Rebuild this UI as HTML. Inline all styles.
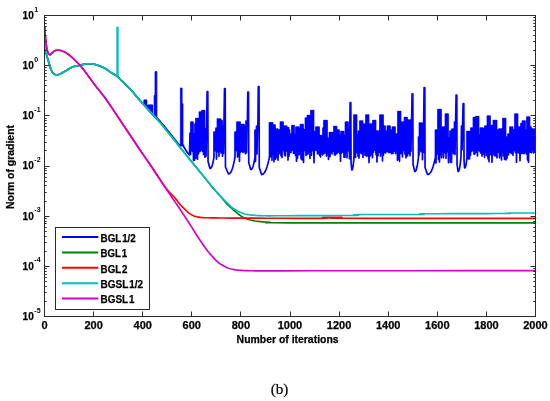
<!DOCTYPE html>
<html><head><meta charset="utf-8"><title>Norm of gradient</title>
<style>html,body{margin:0;padding:0;background:#fff;width:550px;height:401px;overflow:hidden}svg{display:block}</style>
</head><body>
<svg width="550" height="401" viewBox="0 0 550 401">
<rect width="550" height="401" fill="#fff"/>
<defs><clipPath id="ax"><rect x="44.5" y="15.5" width="491" height="301"/></clipPath></defs>
<g clip-path="url(#ax)" fill="none" stroke-linejoin="round" stroke-linecap="butt">
<path d="M44.50 26.00L44.58 27.65L44.69 29.95L44.83 32.66L44.97 35.56L45.13 38.42L45.30 41.00L45.47 43.39L45.63 45.80L45.81 48.17L46.01 50.43L46.24 52.53L46.50 54.40L46.81 55.99L47.16 57.34L47.53 58.52L47.92 59.62L48.32 60.72L48.70 61.90L49.08 63.19L49.46 64.54L49.85 65.89L50.24 67.18L50.62 68.37L51.00 69.40L51.37 70.26L51.74 71.00L52.10 71.62L52.46 72.17L52.83 72.65L53.20 73.10L53.57 73.49L53.93 73.82L54.30 74.08L54.68 74.29L55.08 74.46L55.50 74.60L55.92 74.72L56.34 74.82L56.77 74.88L57.25 74.88L57.82 74.79L58.50 74.60L59.31 74.29L60.22 73.87L61.22 73.37L62.28 72.81L63.38 72.22L64.50 71.60L65.67 70.92L66.91 70.14L68.19 69.32L69.48 68.52L70.76 67.79L72.00 67.20L73.22 66.75L74.44 66.41L75.66 66.15L76.83 65.93L77.95 65.72L79.00 65.50L79.96 65.26L80.85 65.04L81.69 64.83L82.48 64.63L83.25 64.45L84.00 64.30L84.72 64.17L85.41 64.06L86.06 63.97L86.70 63.90L87.34 63.84L88.00 63.80L88.67 63.77L89.33 63.76L90.00 63.76L90.67 63.79L91.33 63.83L92.00 63.90L92.66 63.99L93.30 64.11L93.94 64.25L94.59 64.41L95.28 64.59L96.00 64.80L96.78 65.03L97.59 65.28L98.44 65.55L99.30 65.84L100.16 66.16L101.00 66.50L101.83 66.86L102.67 67.24L103.50 67.64L104.33 68.06L105.17 68.52L106.00 69.00L106.83 69.53L107.67 70.11L108.50 70.72L109.33 71.33L110.17 71.93L111.00 72.50L111.83 73.01L112.67 73.48L113.50 73.94L114.33 74.41L115.17 74.92L116.00 75.50L116.83 76.16L117.67 76.87L118.50 77.62L119.33 78.41L120.17 79.20L121.00 80.00L121.83 80.80L122.67 81.63L123.50 82.47L124.33 83.31L125.17 84.16L126.00 85.00L126.79 85.77L127.52 86.46L128.25 87.16L129.04 87.93L129.94 88.85L131.00 90.00L132.26 91.43L133.67 93.07L135.19 94.88L136.78 96.76L138.40 98.66L140.00 100.50L141.61 102.30L144.30 105.27L144.30 100.30L146.40 100.30L146.40 107.56L148.10 109.42L148.10 105.30L152.20 105.30L152.20 113.89L153.80 115.62L157.10 118.22L157.50 118.36L158.50 119.48L159.50 120.63L160.50 121.79L161.50 122.98L162.50 124.19L163.50 125.41L164.50 126.65L165.50 127.89L166.50 129.14L167.50 130.39L168.50 131.64L169.50 132.88L170.50 134.12L171.50 135.34L172.50 136.57L173.50 137.80L174.50 139.04L175.50 140.28L176.50 141.53L177.50 142.78L178.50 144.04L179.50 145.30L180.60 145.00L182.90 145.00L184.50 148.00L186.00 150.50L188.00 153.50L189.50 155.00L190.00 133.00L190.50 154.60L191.00 133.00L191.00 122.00L191.50 150.29L192.00 122.00L192.50 151.46L193.00 122.00L193.00 134.00L193.50 160.54L194.00 134.00L194.50 160.17L195.00 134.00L195.00 124.00L195.50 158.45L196.00 124.00L196.00 118.50L196.50 157.31L197.00 118.50L197.50 159.12L198.00 118.50L198.00 128.50L198.50 153.79L199.00 128.50L199.50 128.50L199.50 112.00L200.00 151.59L200.50 112.00L201.00 150.19L201.50 112.00L202.00 112.00L202.00 110.50L202.50 151.16L203.00 110.50L203.50 154.47L204.00 110.50L204.50 110.50L204.50 129.00L205.00 157.26L205.50 129.00L206.00 156.33L206.50 129.00L206.60 129.00L207.10 91.50L207.80 91.50L208.05 161.50L210.00 168.50L210.40 168.43L210.80 168.17L211.20 167.69L211.60 166.97L212.00 166.00L212.40 164.76L212.80 163.25L213.20 161.46L213.60 159.38L214.00 157.00L214.00 132.00L214.50 151.49L215.00 132.00L215.50 150.25L216.00 132.00L216.00 128.00L216.50 159.03L217.00 128.00L217.50 128.00L217.50 119.00L218.00 151.71L218.50 119.00L219.00 156.34L219.50 119.00L220.00 151.20L220.50 119.00L220.50 120.50L221.00 152.80L221.50 120.50L222.00 120.50L222.00 126.00L222.50 156.30L223.00 126.00L223.50 153.50L223.90 126.00L224.50 88.50L225.20 88.50L225.45 167.00L228.50 174.00L229.15 173.89L229.80 173.51L230.45 172.80L231.10 171.74L231.75 170.30L232.40 168.47L233.05 166.24L233.70 163.59L234.35 160.52L235.00 157.00L235.00 132.00L235.50 151.15L236.00 132.00L236.50 150.47L237.00 132.00L237.00 122.00L237.50 157.03L238.00 122.00L238.50 155.96L239.00 122.00L239.50 161.34L240.00 122.00L240.00 127.50L240.50 152.29L241.00 127.50L241.50 127.50L241.50 124.50L242.00 151.25L242.50 124.50L243.00 152.38L243.50 124.50L244.00 124.50L244.00 127.00L244.50 151.82L245.00 127.00L245.50 153.78L246.00 127.00L246.00 121.00L246.50 152.66L247.00 121.00L247.40 121.00L247.80 92.00L248.50 92.00L248.75 162.50L250.70 169.50L251.13 169.42L251.56 169.14L251.99 168.62L252.42 167.83L252.85 166.78L253.28 165.44L253.71 163.80L254.14 161.85L254.57 159.59L255.00 157.00L255.00 130.00L255.50 161.51L256.00 130.00L256.50 130.00L256.50 126.00L257.00 153.97L257.50 126.00L257.90 126.00L258.30 86.50L259.00 86.50L259.25 167.60L261.50 174.60L262.30 174.49L263.10 174.09L263.90 173.35L264.70 172.26L265.50 170.77L266.30 168.88L267.10 166.57L267.90 163.83L268.70 160.64L269.50 157.00L269.50 122.80L270.00 151.14L270.50 122.80L271.00 156.67L271.50 122.80L272.00 160.31L272.50 122.80L272.50 125.00L273.00 154.47L273.50 125.00L274.00 161.84L274.50 125.00L275.00 125.00L275.00 129.00L275.50 159.24L276.00 129.00L276.50 157.49L277.00 129.00L277.50 129.00L277.50 135.00L278.00 160.25L278.50 135.00L278.50 130.00L279.00 153.53L279.50 130.00L280.00 153.46L280.50 130.00L280.50 122.00L281.00 155.66L281.50 122.00L282.00 157.54L282.50 122.00L283.00 122.00L283.00 137.00L283.50 150.60L284.00 137.00L284.00 126.20L284.50 154.93L285.00 126.20L285.50 155.94L286.00 126.20L286.50 126.20L286.50 127.50L287.00 151.05L287.50 127.50L288.00 160.09L288.50 127.50L288.50 130.00L289.00 156.27L289.50 130.00L289.50 134.00L290.00 152.76L290.50 134.00L291.00 152.47L291.50 134.00L292.00 134.00L292.00 125.50L292.50 150.22L293.00 125.50L293.50 153.12L294.00 125.50L294.00 134.50L294.50 153.19L295.00 134.50L295.50 155.60L296.00 134.50L296.00 127.00L296.50 161.17L297.00 127.00L297.50 158.34L298.00 127.00L298.50 127.00L298.50 128.50L299.00 154.65L299.50 128.50L300.00 154.21L300.50 128.50L300.50 124.50L301.00 158.76L301.50 124.50L302.00 159.82L302.50 124.50L303.00 124.50L303.00 129.50L303.50 162.37L304.00 129.50L304.50 150.59L305.00 129.50L305.50 129.50L305.50 118.00L306.00 155.39L306.50 118.00L307.00 154.49L307.50 118.00L307.50 115.50L308.00 153.97L308.50 115.50L309.00 151.94L309.50 115.50L309.50 130.00L310.00 158.51L310.50 130.00L311.00 130.00L311.00 110.50L311.50 155.06L312.00 110.50L312.50 150.65L313.00 110.50L313.50 110.50L313.50 131.50L314.00 162.75L314.50 131.50L315.00 150.59L315.50 131.50L316.00 131.50L316.00 127.00L316.50 150.11L317.00 127.00L317.50 153.91L318.00 127.00L318.50 152.78L319.00 127.00L319.00 135.50L319.50 155.47L320.00 135.50L320.50 157.09L321.00 135.50L321.50 153.12L322.00 135.50L322.50 154.89L323.00 135.50L323.00 128.00L323.50 153.94L324.00 128.00L324.00 120.50L324.50 153.22L325.00 120.50L325.50 152.96L326.00 120.50L326.50 156.07L327.00 120.50L327.00 138.00L327.50 154.12L328.00 138.00L328.50 159.40L329.00 138.00L329.50 138.00L329.50 132.50L330.00 156.77L330.50 132.50L331.00 151.79L331.50 132.50L332.00 153.95L332.50 132.50L333.00 151.46L333.50 132.50L334.00 132.50L334.00 126.50L334.50 154.91L335.00 126.50L335.50 154.82L336.00 126.50L336.50 126.50L336.50 130.00L337.00 153.60L337.50 130.00L338.00 151.92L338.50 130.00L339.00 130.00L339.00 135.50L339.50 153.20L340.00 135.50L340.50 161.30L341.00 135.50L341.00 131.50L341.50 153.13L342.00 131.50L342.50 151.91L343.00 131.50L343.50 131.50L343.50 135.50L344.00 157.16L344.50 135.50L345.00 157.20L345.50 135.50L345.50 122.00L346.00 151.58L346.50 122.00L347.00 157.79L347.50 122.00L348.00 122.00L348.00 130.00L348.50 150.68L349.00 130.00L349.50 158.76L349.80 130.00L350.10 102.50L350.80 102.50L351.05 163.00L351.80 170.00L352.02 169.92L352.24 169.62L352.46 169.08L352.68 168.27L352.90 167.17L353.12 165.77L353.34 164.07L353.56 162.04L353.78 159.69L354.00 157.00L354.00 115.00L354.50 153.23L355.00 115.00L355.50 157.31L356.00 115.00L356.50 115.00L356.50 135.00L357.00 152.63L357.50 135.00L358.00 156.19L358.50 135.00L358.50 131.00L359.00 158.07L359.50 131.00L360.00 131.00L360.00 121.00L360.50 152.60L361.00 121.00L361.50 153.73L362.00 121.00L362.50 121.00L362.50 124.00L363.00 157.49L363.50 124.00L364.00 150.84L364.50 124.00L365.00 155.17L365.50 124.00L366.00 124.00L366.00 115.00L366.50 156.35L367.00 115.00L367.50 155.68L368.00 115.00L368.50 115.00L368.50 130.00L369.00 162.55L369.50 130.00L370.00 130.00L370.00 124.00L370.50 155.83L371.00 124.00L371.50 153.62L372.00 124.00L372.50 157.67L373.00 124.00L373.00 120.50L373.50 152.13L374.00 120.50L374.50 150.07L375.00 120.50L375.50 120.50L375.50 131.00L376.00 154.73L376.50 131.00L377.00 162.00L377.50 131.00L378.00 155.89L378.50 131.00L379.00 152.23L379.50 131.00L380.00 131.00L380.00 115.00L380.50 156.07L381.00 115.00L381.50 153.14L382.00 115.00L382.50 160.80L383.00 115.00L383.00 126.00L383.50 155.11L384.00 126.00L384.50 152.03L385.00 126.00L385.00 131.00L385.50 153.04L386.00 131.00L386.50 151.77L387.00 131.00L387.50 131.00L387.50 126.00L388.00 152.02L388.50 126.00L389.00 152.77L389.50 126.00L390.00 126.00L390.00 130.00L390.50 152.13L391.00 130.00L391.50 153.77L392.00 130.00L392.50 130.00L392.50 127.00L393.00 153.51L393.50 127.00L394.00 151.04L394.50 127.00L395.00 127.00L395.00 134.00L395.50 153.77L396.00 134.00L396.50 150.55L397.00 134.00L397.50 160.21L398.00 134.00L398.00 111.50L398.50 159.20L399.00 111.50L399.50 161.35L400.00 111.50L400.50 111.50L400.50 133.00L401.00 153.59L401.50 133.00L402.00 133.00L402.00 122.00L402.50 156.86L403.00 122.00L403.50 150.57L404.00 122.00L404.50 122.00L404.50 117.50L405.00 153.87L405.50 117.50L406.00 157.81L406.50 117.50L407.00 117.50L407.00 124.00L407.50 155.95L408.00 124.00L408.50 124.00L408.50 120.00L409.00 153.33L409.50 120.00L410.00 155.73L410.50 120.00L411.00 151.36L411.50 120.00L411.60 120.00L412.10 93.75L412.80 93.75L413.05 164.50L414.80 171.50L415.17 171.41L415.54 171.08L415.91 170.47L416.28 169.57L416.65 168.34L417.02 166.79L417.39 164.88L417.76 162.63L418.13 160.00L418.50 157.00L418.50 137.00L419.00 155.27L419.50 137.00L419.50 123.00L420.00 150.08L420.50 123.00L421.00 151.76L421.50 123.00L422.00 123.00L422.00 127.00L422.50 159.66L423.00 127.00L423.50 152.05L423.60 127.00L424.10 87.50L424.80 87.50L425.05 167.50L427.50 174.50L428.30 174.39L429.10 173.99L429.90 173.26L430.70 172.17L431.50 170.69L432.30 168.81L433.10 166.52L433.90 163.79L434.70 160.62L435.50 157.00L435.50 130.00L436.00 162.93L436.50 130.00L437.00 153.89L437.50 130.00L438.00 130.00L438.00 109.50L438.50 159.33L439.00 109.50L439.50 161.89L440.00 109.50L440.50 154.52L441.00 109.50L441.00 138.00L441.50 157.65L442.00 138.00L442.00 127.00L442.50 151.03L443.00 127.00L443.50 157.68L444.00 127.00L444.50 127.00L444.50 135.00L445.00 152.80L445.50 135.00L445.50 114.00L446.00 158.29L446.50 114.00L447.00 151.70L447.50 114.00L448.00 114.00L448.00 138.00L448.50 162.69L449.00 138.00L449.50 153.21L450.00 138.00L450.00 131.00L450.50 162.28L451.00 131.00L451.50 162.31L452.00 131.00L452.00 129.00L452.50 151.36L453.00 129.00L453.50 153.71L454.00 129.00L454.50 129.00L454.50 122.00L455.00 154.52L455.50 122.00L455.60 122.00L456.10 95.00L456.80 95.00L457.05 164.50L458.00 171.50L458.30 171.41L458.60 171.08L458.90 170.47L459.20 169.57L459.50 168.34L459.80 166.79L460.10 164.88L460.40 162.63L460.70 160.00L461.00 157.00L461.50 126.00L462.00 150.00L463.10 103.50L463.80 103.50L464.05 161.00L464.60 168.00L464.84 167.93L465.08 167.68L465.32 167.22L465.56 166.53L465.80 165.61L466.04 164.42L466.28 162.98L466.52 161.27L466.76 159.28L467.00 157.00L467.00 131.50L467.50 150.95L468.00 131.50L468.50 158.81L469.00 131.50L469.50 159.01L470.00 131.50L470.50 155.22L471.00 131.50L471.00 128.00L471.50 151.16L472.00 128.00L472.50 150.71L473.00 128.00L473.50 128.00L473.50 117.50L474.00 154.07L474.50 117.50L475.00 154.06L475.50 117.50L476.00 117.50L476.00 116.50L476.50 152.20L477.00 116.50L477.50 155.90L478.00 116.50L478.50 116.50L478.50 135.00L479.00 150.43L479.50 135.00L480.00 151.73L480.50 135.00L480.50 128.00L481.00 153.34L481.50 128.00L482.00 156.03L482.50 128.00L483.00 128.00L483.00 129.00L483.50 153.93L484.00 129.00L484.50 157.33L485.00 129.00L485.00 126.00L485.50 152.54L486.00 126.00L486.50 155.39L487.00 126.00L487.50 126.00L487.50 116.00L488.00 158.65L488.50 116.00L489.00 161.70L489.50 116.00L490.00 116.00L490.00 129.50L490.50 154.65L491.00 129.50L491.50 129.50L491.50 125.50L492.00 162.21L492.50 125.50L493.00 152.68L493.50 125.50L493.50 120.50L494.00 154.97L494.50 120.50L495.00 155.84L495.50 120.50L496.00 155.78L496.50 120.50L496.50 130.00L497.00 157.85L497.50 130.00L498.00 152.19L498.50 130.00L499.00 130.00L499.00 129.00L499.50 157.86L500.00 129.00L500.50 155.43L501.00 129.00L501.50 159.91L502.00 129.00L502.50 152.01L503.00 129.00L503.00 118.50L503.50 156.02L504.00 118.50L504.50 159.32L505.00 118.50L505.50 118.50L505.50 137.00L506.00 160.00L506.50 137.00L507.00 158.11L507.50 137.00L508.00 137.00L508.00 134.00L508.50 154.93L509.00 134.00L509.50 152.12L510.00 134.00L510.00 127.00L510.50 152.63L511.00 127.00L511.50 153.52L512.00 127.00L512.50 127.00L512.50 130.00L513.00 155.30L513.50 130.00L514.00 150.60L514.50 130.00L515.00 130.00L515.00 114.00L515.50 152.57L516.00 114.00L516.50 162.18L517.00 114.00L517.50 114.00L517.50 127.00L518.00 152.51L518.50 127.00L519.00 153.25L519.50 127.00L519.50 132.00L520.00 160.62L520.50 132.00L521.00 132.00L521.00 123.50L521.50 153.34L522.00 123.50L522.50 123.50L522.50 121.00L523.00 153.31L523.50 121.00L524.00 153.57L524.50 121.00L525.00 121.00L525.00 130.00L525.50 152.77L526.00 130.00L526.50 154.12L527.00 130.00L527.00 117.00L527.50 159.80L528.00 117.00L528.50 162.18L529.00 117.00L529.50 117.00L529.50 127.00L530.00 152.51L530.50 127.00L531.00 127.00L531.00 129.00L531.50 152.72L532.00 129.00L532.50 150.01L533.00 129.00L533.50 152.99L534.00 129.00L534.50 152.14L535.00 129.00L535.50 150.26L536.00 129.00" stroke="#0000ff" stroke-width="1.7"/>
<path d="M144.3 106.27V100.3H146.4V108.56ZM148.1 110.42V105.3H152.2V114.89ZM154.1 116.95V95.2H155V71.6H156.9V120.00ZM180.4 146V88H182.1V103.6H183V146Z" fill="#0000ff" stroke="#0000ff" stroke-width="0.8"/>
<path d="M44.50 26.00L44.58 27.65L44.69 29.95L44.83 32.66L44.97 35.56L45.13 38.42L45.30 41.00L45.47 43.39L45.63 45.80L45.81 48.17L46.01 50.43L46.24 52.53L46.50 54.40L46.81 55.99L47.16 57.34L47.53 58.52L47.92 59.62L48.32 60.72L48.70 61.90L49.08 63.19L49.46 64.54L49.85 65.89L50.24 67.18L50.62 68.37L51.00 69.40L51.37 70.26L51.74 71.00L52.10 71.62L52.46 72.17L52.83 72.65L53.20 73.10L53.57 73.49L53.93 73.82L54.30 74.08L54.68 74.29L55.08 74.46L55.50 74.60L55.92 74.72L56.34 74.82L56.77 74.88L57.25 74.88L57.82 74.79L58.50 74.60L59.31 74.29L60.22 73.87L61.22 73.37L62.28 72.81L63.38 72.22L64.50 71.60L65.67 70.92L66.91 70.14L68.19 69.32L69.48 68.52L70.76 67.79L72.00 67.20L73.22 66.75L74.44 66.41L75.66 66.15L76.83 65.93L77.95 65.72L79.00 65.50L79.96 65.26L80.85 65.04L81.69 64.83L82.48 64.63L83.25 64.45L84.00 64.30L84.72 64.17L85.41 64.06L86.06 63.97L86.70 63.90L87.34 63.84L88.00 63.80L88.67 63.77L89.33 63.76L90.00 63.76L90.67 63.79L91.33 63.83L92.00 63.90L92.66 63.99L93.30 64.11L93.94 64.25L94.59 64.41L95.28 64.59L96.00 64.80L96.78 65.03L97.59 65.28L98.44 65.55L99.30 65.84L100.16 66.16L101.00 66.50L101.83 66.86L102.67 67.24L103.50 67.64L104.33 68.06L105.17 68.52L106.00 69.00L106.83 69.53L107.67 70.11L108.50 70.72L109.33 71.33L110.17 71.93L111.00 72.50L111.83 73.01L112.67 73.48L113.50 73.94L114.33 74.41L115.17 74.92L116.00 75.50L116.83 76.16L117.67 76.87L118.50 77.62L119.33 78.41L120.17 79.20L121.00 80.00L121.83 80.80L122.67 81.63L123.50 82.47L124.33 83.31L125.17 84.16L126.00 85.00L126.79 85.77L127.52 86.46L128.25 87.16L129.04 87.93L129.94 88.85L131.00 90.00L132.26 91.43L133.67 93.07L135.19 94.88L136.78 96.76L138.40 98.66L140.00 100.50L141.61 102.30L143.26 104.13L144.94 105.97L146.63 107.81L148.32 109.66L150.00 111.50L151.67 113.32L153.33 115.12L155.00 116.92L156.67 118.74L158.33 120.59L160.00 122.50L161.71 124.53L163.48 126.69L165.25 128.88L166.96 131.01L168.56 133.02L170.00 134.80L171.22 136.30L172.26 137.58L173.19 138.72L174.07 139.81L174.99 140.94L176.00 142.20L177.09 143.56L178.20 144.96L179.33 146.39L180.50 147.87L181.72 149.40L183.00 151.00L184.35 152.69L185.77 154.46L187.24 156.28L188.73 158.13L190.22 159.98L191.70 161.80L193.19 163.62L194.70 165.46L196.22 167.31L197.72 169.11L199.15 170.86L200.50 172.50L201.75 174.04L202.94 175.51L204.07 176.91L205.15 178.25L206.19 179.54L207.20 180.80L208.14 181.98L208.99 183.06L209.80 184.10L210.62 185.14L211.51 186.22L212.50 187.40L213.64 188.70L214.89 190.08L216.21 191.51L217.53 192.94L218.81 194.35L220.00 195.70L221.11 197.02L222.19 198.34L223.22 199.63L224.20 200.86L225.13 202.00L226.00 203.00L226.77 203.83L227.44 204.50L228.06 205.07L228.67 205.61L229.30 206.17L230.00 206.80L230.76 207.51L231.56 208.24L232.38 208.99L233.22 209.76L234.10 210.53L235.00 211.30L235.93 212.09L236.89 212.90L237.88 213.73L238.89 214.53L239.93 215.30L241.00 216.00L242.09 216.65L243.19 217.26L244.31 217.83L245.48 218.36L246.71 218.85L248.00 219.30L249.34 219.71L250.70 220.07L252.12 220.39L253.63 220.68L255.25 220.95L257.00 221.20L258.85 221.44L260.78 221.65L262.81 221.84L265.00 222.01L267.38 222.16L270.00 222.30L270.32 222.42L267.80 222.53L265.47 222.62L266.37 222.69L273.54 222.75L290.00 222.80L320.71 222.83L364.22 222.84L414.00 222.83L463.50 222.82L506.18 222.81L535.50 222.80" stroke="#008000" stroke-width="1.65"/>
<path d="M44.50 26.00L44.63 27.50L44.80 29.61L45.01 32.09L45.23 34.72L45.47 37.27L45.70 39.50L45.92 41.49L46.15 43.44L46.38 45.30L46.63 47.04L46.90 48.62L47.20 50.00L47.55 51.18L47.94 52.20L48.35 53.06L48.76 53.76L49.15 54.30L49.50 54.70L49.78 54.91L50.00 54.91L50.21 54.76L50.42 54.51L50.67 54.21L51.00 53.90L51.41 53.54L51.89 53.08L52.41 52.56L52.94 52.04L53.48 51.57L54.00 51.20L54.48 50.92L54.94 50.68L55.41 50.49L55.89 50.35L56.41 50.25L57.00 50.20L57.65 50.18L58.34 50.20L59.07 50.26L59.84 50.37L60.65 50.55L61.50 50.80L62.42 51.14L63.41 51.57L64.44 52.06L65.48 52.59L66.48 53.14L67.40 53.70L68.20 54.22L68.90 54.71L69.57 55.23L70.26 55.82L71.05 56.53L72.00 57.40L73.17 58.51L74.53 59.82L75.97 61.25L77.43 62.71L78.80 64.13L80.00 65.40L81.02 66.53L81.93 67.60L82.75 68.61L83.52 69.58L84.26 70.54L85.00 71.50L85.69 72.41L86.30 73.23L86.88 74.04L87.48 74.89L88.17 75.86L89.00 77.00L89.98 78.35L91.07 79.85L92.25 81.47L93.48 83.15L94.74 84.84L96.00 86.50L97.30 88.16L98.67 89.85L100.06 91.56L101.44 93.26L102.77 94.91L104.00 96.50L105.07 97.93L106.00 99.20L106.88 100.44L107.78 101.74L108.79 103.22L110.00 105.00L111.44 107.12L113.04 109.52L114.75 112.09L116.52 114.76L118.29 117.42L120.00 120.00L121.67 122.50L123.33 125.00L125.00 127.50L126.67 130.00L128.33 132.50L130.00 135.00L131.67 137.51L133.33 140.02L135.00 142.53L136.67 145.04L138.33 147.53L140.00 150.00L141.67 152.44L143.33 154.85L145.00 157.25L146.67 159.65L148.33 162.06L150.00 164.50L151.72 167.06L153.52 169.75L155.31 172.45L157.04 175.05L158.62 177.44L160.00 179.50L161.12 181.18L162.04 182.55L162.81 183.71L163.52 184.75L164.22 185.75L165.00 186.80L165.83 187.88L166.67 188.93L167.50 189.93L168.33 190.91L169.17 191.86L170.00 192.80L170.83 193.70L171.67 194.55L172.50 195.38L173.33 196.21L174.17 197.08L175.00 198.00L175.83 199.00L176.67 200.06L177.50 201.15L178.33 202.24L179.17 203.30L180.00 204.30L180.84 205.25L181.69 206.16L182.54 207.05L183.39 207.90L184.21 208.72L185.00 209.50L185.75 210.24L186.47 210.95L187.17 211.62L187.86 212.25L188.57 212.85L189.30 213.40L190.06 213.91L190.84 214.39L191.62 214.82L192.42 215.21L193.21 215.57L194.00 215.90L194.73 216.18L195.40 216.41L196.06 216.61L196.79 216.79L197.65 216.94L198.70 217.10L199.72 217.25L200.62 217.39L201.64 217.51L203.05 217.61L205.08 217.71L208.00 217.80L211.44 217.87L215.13 217.93L219.46 217.98L224.79 218.02L231.51 218.06L240.00 218.10L251.71 218.15L266.63 218.21L282.94 218.28L298.81 218.32L312.44 218.33L322.00 218.30L326.65 218.20L327.67 218.05L326.44 217.86L324.33 217.67L322.73 217.51L323.00 217.40L325.33 217.34L328.67 217.30L332.50 217.29L336.33 217.30L339.67 217.34L342.00 217.40L340.99 217.51L336.57 217.67L331.66 217.85L329.15 218.03L331.96 218.19L343.00 218.30L366.23 218.35L400.11 218.37L439.31 218.36L478.50 218.33L512.34 218.31L535.50 218.30" stroke="#ff0000" stroke-width="1.65"/>
<path d="M44.50 26.00L44.58 27.65L44.69 29.95L44.83 32.66L44.97 35.56L45.13 38.42L45.30 41.00L45.47 43.39L45.63 45.80L45.81 48.17L46.01 50.43L46.24 52.53L46.50 54.40L46.81 55.99L47.16 57.34L47.53 58.52L47.92 59.62L48.32 60.72L48.70 61.90L49.08 63.19L49.46 64.54L49.85 65.89L50.24 67.18L50.62 68.37L51.00 69.40L51.37 70.26L51.74 71.00L52.10 71.62L52.46 72.17L52.83 72.65L53.20 73.10L53.57 73.49L53.93 73.82L54.30 74.08L54.68 74.29L55.08 74.46L55.50 74.60L55.92 74.72L56.34 74.82L56.77 74.88L57.25 74.88L57.82 74.79L58.50 74.60L59.31 74.29L60.22 73.87L61.22 73.37L62.28 72.81L63.38 72.22L64.50 71.60L65.67 70.92L66.91 70.14L68.19 69.32L69.48 68.52L70.76 67.79L72.00 67.20L73.22 66.75L74.44 66.41L75.66 66.15L76.83 65.93L77.95 65.72L79.00 65.50L79.96 65.26L80.85 65.04L81.69 64.83L82.48 64.63L83.25 64.45L84.00 64.30L84.72 64.17L85.41 64.06L86.06 63.97L86.70 63.90L87.34 63.84L88.00 63.80L88.67 63.77L89.33 63.76L90.00 63.76L90.67 63.79L91.33 63.83L92.00 63.90L92.66 63.99L93.30 64.11L93.94 64.25L94.59 64.41L95.28 64.59L96.00 64.80L96.78 65.03L97.59 65.28L98.44 65.55L99.30 65.84L100.16 66.16L101.00 66.50L101.83 66.86L102.67 67.24L103.50 67.64L104.33 68.06L105.17 68.52L106.00 69.00L106.83 69.53L107.67 70.11L108.50 70.72L109.33 71.33L110.17 71.93L111.00 72.50L111.83 73.01L112.67 73.48L113.50 73.94L114.33 74.41L115.17 74.92L116.00 75.50L116.83 76.16L117.67 76.87L118.50 77.62L119.33 78.41L120.17 79.20L121.00 80.00L121.83 80.80L122.67 81.63L123.50 82.47L124.33 83.31L125.17 84.16L126.00 85.00L126.79 85.77L127.52 86.46L128.25 87.16L129.04 87.93L129.94 88.85L131.00 90.00L132.26 91.43L133.67 93.07L135.19 94.88L136.78 96.76L138.40 98.66L140.00 100.50L141.61 102.30L143.26 104.13L144.94 105.97L146.63 107.81L148.32 109.66L150.00 111.50L151.67 113.32L153.33 115.12L155.00 116.92L156.67 118.74L158.33 120.59L160.00 122.50L161.71 124.53L163.48 126.69L165.25 128.88L166.96 131.01L168.56 133.02L170.00 134.80L171.22 136.30L172.26 137.58L173.19 138.72L174.07 139.81L174.99 140.94L176.00 142.20L177.09 143.56L178.20 144.96L179.33 146.39L180.50 147.87L181.72 149.40L183.00 151.00L184.35 152.69L185.77 154.46L187.24 156.28L188.73 158.13L190.22 159.98L191.70 161.80L193.19 163.62L194.70 165.46L196.22 167.31L197.72 169.11L199.15 170.86L200.50 172.50L201.75 174.04L202.94 175.51L204.07 176.91L205.15 178.25L206.19 179.54L207.20 180.80L208.14 181.98L208.99 183.06L209.80 184.10L210.62 185.14L211.51 186.22L212.50 187.40L213.62 188.69L214.84 190.07L216.12 191.49L217.43 192.93L218.73 194.34L220.00 195.70L221.26 197.02L222.53 198.34L223.79 199.64L225.04 200.90L226.25 202.09L227.40 203.20L228.46 204.21L229.44 205.14L230.39 206.01L231.33 206.83L232.32 207.62L233.40 208.40L234.59 209.19L235.87 209.96L237.20 210.71L238.53 211.41L239.81 212.05L241.00 212.60L242.08 213.05L243.08 213.41L244.04 213.71L244.99 213.96L245.96 214.18L247.00 214.40L248.06 214.61L249.11 214.78L250.19 214.93L251.33 215.06L252.59 215.18L254.00 215.30L255.44 215.41L256.85 215.52L258.38 215.61L260.15 215.69L262.31 215.76L265.00 215.80L267.89 215.82L270.80 215.82L274.09 215.80L278.15 215.77L283.33 215.74L290.00 215.70L299.31 215.67L311.20 215.63L324.22 215.59L336.91 215.54L347.82 215.48L355.50 215.40L358.73 215.29L358.43 215.15L356.34 214.99L354.24 214.84L353.87 214.70L357.00 214.60L364.77 214.54L376.02 214.50L389.00 214.49L401.98 214.47L413.23 214.45L421.00 214.40L424.20 214.32L423.98 214.21L422.03 214.10L420.02 213.99L419.62 213.88L422.50 213.80L429.44 213.74L439.24 213.70L450.66 213.68L462.43 213.65L473.29 213.63L482.00 213.60L488.68 213.57L494.35 213.54L499.12 213.51L503.09 213.48L506.35 213.44L509.00 213.40L510.45 213.34L510.52 213.27L509.88 213.19L509.20 213.11L509.19 213.05L510.50 213.00L513.60 212.98L518.02 212.97L523.09 212.97L528.15 212.99L532.51 213.00L535.50 213.00" stroke="#00bfbf" stroke-width="1.65"/>
<path d="M117.5 76.7 L117.5 26.8" stroke="#00bfbf" stroke-width="2.4"/>
<path d="M44.50 26.00L44.63 27.50L44.80 29.61L45.01 32.09L45.23 34.72L45.47 37.27L45.70 39.50L45.92 41.49L46.15 43.44L46.38 45.30L46.63 47.04L46.90 48.62L47.20 50.00L47.55 51.18L47.94 52.20L48.35 53.06L48.76 53.76L49.15 54.30L49.50 54.70L49.78 54.91L50.00 54.91L50.21 54.76L50.42 54.51L50.67 54.21L51.00 53.90L51.41 53.54L51.89 53.08L52.41 52.56L52.94 52.04L53.48 51.57L54.00 51.20L54.48 50.92L54.94 50.68L55.41 50.49L55.89 50.35L56.41 50.25L57.00 50.20L57.65 50.18L58.34 50.20L59.07 50.26L59.84 50.37L60.65 50.55L61.50 50.80L62.42 51.14L63.41 51.57L64.44 52.06L65.48 52.59L66.48 53.14L67.40 53.70L68.20 54.22L68.90 54.71L69.57 55.23L70.26 55.82L71.05 56.53L72.00 57.40L73.17 58.51L74.53 59.82L75.97 61.25L77.43 62.71L78.80 64.13L80.00 65.40L81.02 66.53L81.93 67.60L82.75 68.61L83.52 69.58L84.26 70.54L85.00 71.50L85.69 72.41L86.30 73.23L86.88 74.04L87.48 74.89L88.17 75.86L89.00 77.00L89.98 78.35L91.07 79.85L92.25 81.47L93.48 83.15L94.74 84.84L96.00 86.50L97.30 88.16L98.67 89.85L100.06 91.56L101.44 93.26L102.77 94.91L104.00 96.50L105.07 97.93L106.00 99.20L106.88 100.44L107.78 101.74L108.79 103.22L110.00 105.00L111.44 107.12L113.04 109.52L114.75 112.09L116.52 114.76L118.29 117.42L120.00 120.00L121.67 122.50L123.33 125.00L125.00 127.50L126.67 130.00L128.33 132.50L130.00 135.00L131.67 137.51L133.33 140.02L135.00 142.53L136.67 145.04L138.33 147.53L140.00 150.00L141.67 152.44L143.33 154.85L145.00 157.25L146.67 159.65L148.33 162.06L150.00 164.50L151.67 166.97L153.33 169.46L155.00 171.97L156.67 174.48L158.33 176.99L160.00 179.50L161.67 182.00L163.33 184.51L165.00 187.01L166.67 189.51L168.33 192.01L170.00 194.50L171.67 196.97L173.33 199.43L175.00 201.89L176.67 204.34L178.33 206.81L180.00 209.30L181.68 211.83L183.38 214.39L185.08 216.96L186.76 219.52L188.41 222.04L190.00 224.50L191.52 226.89L192.97 229.23L194.39 231.53L195.80 233.80L197.23 236.06L198.70 238.30L200.21 240.56L201.75 242.82L203.31 245.07L204.87 247.27L206.44 249.39L208.00 251.40L209.60 253.35L211.27 255.28L212.93 257.13L214.54 258.85L216.05 260.39L217.40 261.70L218.55 262.72L219.55 263.49L220.44 264.07L221.27 264.56L222.11 265.01L223.00 265.50L223.94 266.03L224.87 266.53L225.81 267.00L226.75 267.44L227.68 267.84L228.60 268.20L229.52 268.52L230.43 268.79L231.34 269.03L232.24 269.24L233.13 269.43L234.00 269.60L234.79 269.75L235.47 269.86L236.15 269.96L236.90 270.04L237.82 270.12L239.00 270.20L240.27 270.29L241.52 270.39L242.94 270.48L244.70 270.57L247.00 270.64L250.00 270.70L251.29 270.74L250.24 270.77L249.72 270.79L252.59 270.80L261.73 270.81L280.00 270.80L312.49 270.78L357.93 270.75L409.62 270.71L460.91 270.66L505.09 270.63L535.50 270.60" stroke="#d400c8" stroke-width="1.65"/>
</g>
<path d="M44.5 316.5V311.5M44.5 15.5V20.5M93.5 316.5V311.5M93.5 15.5V20.5M142.5 316.5V311.5M142.5 15.5V20.5M191.5 316.5V311.5M191.5 15.5V20.5M240.5 316.5V311.5M240.5 15.5V20.5M290.5 316.5V311.5M290.5 15.5V20.5M339.5 316.5V311.5M339.5 15.5V20.5M388.5 316.5V311.5M388.5 15.5V20.5M437.5 316.5V311.5M437.5 15.5V20.5M486.5 316.5V311.5M486.5 15.5V20.5M535.5 316.5V311.5M535.5 15.5V20.5M44.5 15.5H49.5M535.5 15.5H530.5M44.5 65.5H49.5M535.5 65.5H530.5M44.5 115.5H49.5M535.5 115.5H530.5M44.5 166.5H49.5M535.5 166.5H530.5M44.5 216.5H49.5M535.5 216.5H530.5M44.5 266.5H49.5M535.5 266.5H530.5M44.5 316.5H49.5M535.5 316.5H530.5M44.5 50.5H46.7M535.5 50.5H533.3M44.5 41.5H46.7M535.5 41.5H533.3M44.5 35.5H46.7M535.5 35.5H533.3M44.5 30.5H46.7M535.5 30.5H533.3M44.5 26.5H46.7M535.5 26.5H533.3M44.5 23.5H46.7M535.5 23.5H533.3M44.5 20.5H46.7M535.5 20.5H533.3M44.5 17.5H46.7M535.5 17.5H533.3M44.5 100.5H46.7M535.5 100.5H533.3M44.5 91.5H46.7M535.5 91.5H533.3M44.5 85.5H46.7M535.5 85.5H533.3M44.5 80.5H46.7M535.5 80.5H533.3M44.5 76.5H46.7M535.5 76.5H533.3M44.5 73.5H46.7M535.5 73.5H533.3M44.5 70.5H46.7M535.5 70.5H533.3M44.5 67.5H46.7M535.5 67.5H533.3M44.5 150.5H46.7M535.5 150.5H533.3M44.5 142.5H46.7M535.5 142.5H533.3M44.5 135.5H46.7M535.5 135.5H533.3M44.5 130.5H46.7M535.5 130.5H533.3M44.5 126.5H46.7M535.5 126.5H533.3M44.5 123.5H46.7M535.5 123.5H533.3M44.5 120.5H46.7M535.5 120.5H533.3M44.5 118.5H46.7M535.5 118.5H533.3M44.5 201.5H46.7M535.5 201.5H533.3M44.5 192.5H46.7M535.5 192.5H533.3M44.5 185.5H46.7M535.5 185.5H533.3M44.5 181.5H46.7M535.5 181.5H533.3M44.5 177.5H46.7M535.5 177.5H533.3M44.5 173.5H46.7M535.5 173.5H533.3M44.5 170.5H46.7M535.5 170.5H533.3M44.5 168.5H46.7M535.5 168.5H533.3M44.5 251.5H46.7M535.5 251.5H533.3M44.5 242.5H46.7M535.5 242.5H533.3M44.5 236.5H46.7M535.5 236.5H533.3M44.5 231.5H46.7M535.5 231.5H533.3M44.5 227.5H46.7M535.5 227.5H533.3M44.5 223.5H46.7M535.5 223.5H533.3M44.5 221.5H46.7M535.5 221.5H533.3M44.5 218.5H46.7M535.5 218.5H533.3M44.5 301.5H46.7M535.5 301.5H533.3M44.5 292.5H46.7M535.5 292.5H533.3M44.5 286.5H46.7M535.5 286.5H533.3M44.5 281.5H46.7M535.5 281.5H533.3M44.5 277.5H46.7M535.5 277.5H533.3M44.5 274.5H46.7M535.5 274.5H533.3M44.5 271.5H46.7M535.5 271.5H533.3M44.5 268.5H46.7M535.5 268.5H533.3" stroke="#2b2b2b" stroke-width="1" fill="none"/>
<rect x="44.5" y="15.5" width="491" height="301" fill="none" stroke="#2b2b2b" stroke-width="1"/>
<text x="44.5" y="329" font-size="11" font-family="Liberation Sans, Arial, sans-serif" font-weight="bold" stroke="#000" stroke-width="0.25" text-anchor="middle">0</text>
<text x="93.6" y="329" font-size="11" font-family="Liberation Sans, Arial, sans-serif" font-weight="bold" stroke="#000" stroke-width="0.25" text-anchor="middle">200</text>
<text x="142.7" y="329" font-size="11" font-family="Liberation Sans, Arial, sans-serif" font-weight="bold" stroke="#000" stroke-width="0.25" text-anchor="middle">400</text>
<text x="191.8" y="329" font-size="11" font-family="Liberation Sans, Arial, sans-serif" font-weight="bold" stroke="#000" stroke-width="0.25" text-anchor="middle">600</text>
<text x="240.9" y="329" font-size="11" font-family="Liberation Sans, Arial, sans-serif" font-weight="bold" stroke="#000" stroke-width="0.25" text-anchor="middle">800</text>
<text x="290.0" y="329" font-size="11" font-family="Liberation Sans, Arial, sans-serif" font-weight="bold" stroke="#000" stroke-width="0.25" text-anchor="middle">1000</text>
<text x="339.1" y="329" font-size="11" font-family="Liberation Sans, Arial, sans-serif" font-weight="bold" stroke="#000" stroke-width="0.25" text-anchor="middle">1200</text>
<text x="388.2" y="329" font-size="11" font-family="Liberation Sans, Arial, sans-serif" font-weight="bold" stroke="#000" stroke-width="0.25" text-anchor="middle">1400</text>
<text x="437.3" y="329" font-size="11" font-family="Liberation Sans, Arial, sans-serif" font-weight="bold" stroke="#000" stroke-width="0.25" text-anchor="middle">1600</text>
<text x="486.4" y="329" font-size="11" font-family="Liberation Sans, Arial, sans-serif" font-weight="bold" stroke="#000" stroke-width="0.25" text-anchor="middle">1800</text>
<text x="535.5" y="329" font-size="11" font-family="Liberation Sans, Arial, sans-serif" font-weight="bold" stroke="#000" stroke-width="0.25" text-anchor="middle">2000</text>
<text x="22.6" y="18.8" font-size="11" textLength="11.2" lengthAdjust="spacingAndGlyphs" font-family="Liberation Sans, Arial, sans-serif" font-weight="bold" stroke="#000" stroke-width="0.25">10</text>
<text x="34.3" y="11.5" font-size="7" font-family="Liberation Sans, Arial, sans-serif" font-weight="bold">1</text>
<text x="22.6" y="69.0" font-size="11" textLength="11.2" lengthAdjust="spacingAndGlyphs" font-family="Liberation Sans, Arial, sans-serif" font-weight="bold" stroke="#000" stroke-width="0.25">10</text>
<text x="34.3" y="61.7" font-size="7" font-family="Liberation Sans, Arial, sans-serif" font-weight="bold">0</text>
<text x="22.6" y="119.1" font-size="11" textLength="11.2" lengthAdjust="spacingAndGlyphs" font-family="Liberation Sans, Arial, sans-serif" font-weight="bold" stroke="#000" stroke-width="0.25">10</text>
<text x="34.3" y="111.8" font-size="7" font-family="Liberation Sans, Arial, sans-serif" font-weight="bold">-1</text>
<text x="22.6" y="169.3" font-size="11" textLength="11.2" lengthAdjust="spacingAndGlyphs" font-family="Liberation Sans, Arial, sans-serif" font-weight="bold" stroke="#000" stroke-width="0.25">10</text>
<text x="34.3" y="162.0" font-size="7" font-family="Liberation Sans, Arial, sans-serif" font-weight="bold">-2</text>
<text x="22.6" y="219.5" font-size="11" textLength="11.2" lengthAdjust="spacingAndGlyphs" font-family="Liberation Sans, Arial, sans-serif" font-weight="bold" stroke="#000" stroke-width="0.25">10</text>
<text x="34.3" y="212.2" font-size="7" font-family="Liberation Sans, Arial, sans-serif" font-weight="bold">-3</text>
<text x="22.6" y="269.6" font-size="11" textLength="11.2" lengthAdjust="spacingAndGlyphs" font-family="Liberation Sans, Arial, sans-serif" font-weight="bold" stroke="#000" stroke-width="0.25">10</text>
<text x="34.3" y="262.3" font-size="7" font-family="Liberation Sans, Arial, sans-serif" font-weight="bold">-4</text>
<text x="22.6" y="319.8" font-size="11" textLength="11.2" lengthAdjust="spacingAndGlyphs" font-family="Liberation Sans, Arial, sans-serif" font-weight="bold" stroke="#000" stroke-width="0.25">10</text>
<text x="34.3" y="312.5" font-size="7" font-family="Liberation Sans, Arial, sans-serif" font-weight="bold">-5</text>
<text x="236.6" y="343" font-size="11" textLength="102" lengthAdjust="spacingAndGlyphs" font-family="Liberation Sans, Arial, sans-serif" font-weight="bold" stroke="#000" stroke-width="0.25">Number of iterations</text>
<text transform="translate(14.3 209) rotate(-90)" font-size="11" textLength="84" lengthAdjust="spacingAndGlyphs" font-family="Liberation Sans, Arial, sans-serif" font-weight="bold" stroke="#000" stroke-width="0.25">Norm of gradient</text>
<rect x="55.5" y="227.5" width="94" height="82" fill="#fff" stroke="#2b2b2b" stroke-width="1"/>
<path d="M62 237.0H98.3" stroke="#0000ff" stroke-width="2"/>
<text x="100.6" y="241.8" font-size="10.8" textLength="35.2" lengthAdjust="spacingAndGlyphs" font-family="Liberation Sans, Arial, sans-serif" font-weight="bold" stroke="#000" stroke-width="0.25">BGL<tspan dx="0.9">1/2</tspan></text>
<path d="M62 252.4H98.3" stroke="#008000" stroke-width="2"/>
<text x="100.6" y="257.2" font-size="10.8" textLength="26.5" lengthAdjust="spacingAndGlyphs" font-family="Liberation Sans, Arial, sans-serif" font-weight="bold" stroke="#000" stroke-width="0.25">BGL<tspan dx="0.9">1</tspan></text>
<path d="M62 267.8H98.3" stroke="#ff0000" stroke-width="2"/>
<text x="100.6" y="272.6" font-size="10.8" textLength="26.8" lengthAdjust="spacingAndGlyphs" font-family="Liberation Sans, Arial, sans-serif" font-weight="bold" stroke="#000" stroke-width="0.25">BGL<tspan dx="0.9">2</tspan></text>
<path d="M62 283.2H98.3" stroke="#00bfbf" stroke-width="2"/>
<text x="100.6" y="288.0" font-size="10.8" textLength="42.6" lengthAdjust="spacingAndGlyphs" font-family="Liberation Sans, Arial, sans-serif" font-weight="bold" stroke="#000" stroke-width="0.25">BGSL<tspan dx="0.9">1/2</tspan></text>
<path d="M62 298.6H98.3" stroke="#d400c8" stroke-width="2"/>
<text x="100.6" y="303.4" font-size="10.8" textLength="33.8" lengthAdjust="spacingAndGlyphs" font-family="Liberation Sans, Arial, sans-serif" font-weight="bold" stroke="#000" stroke-width="0.25">BGSL<tspan dx="0.9">1</tspan></text>
<text x="279.5" y="394.4" font-size="15.2" stroke="#000" stroke-width="0.2" font-family="Liberation Serif, Times New Roman, serif" text-anchor="middle">(b)</text>
</svg>
</body></html>
